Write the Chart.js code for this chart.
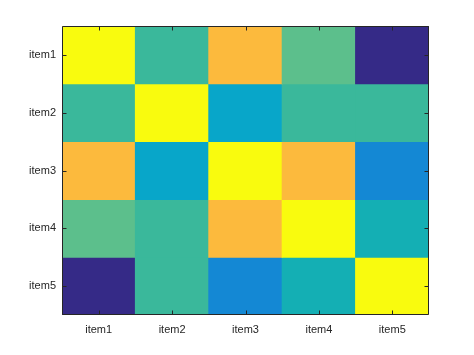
<!DOCTYPE html>
<html>
<head>
<meta charset="utf-8">
<script src="https://cdn.jsdelivr.net/npm/chart.js@4/dist/chart.umd.min.js"></script>
<style>
html,body{margin:0;padding:0;background:#fff;}
canvas{display:block;}
</style>
</head>
<body>
<canvas id="c" width="474" height="355"></canvas>
<script>
const items = ['item1', 'item2', 'item3', 'item4', 'item5'];
const row1 = [1.00, 0.52, 0.84, 0.58, 0.00];
const row2 = [0.52, 1.00, 0.38, 0.52, 0.52];
const row3 = [0.84, 0.38, 1.00, 0.84, 0.27];
const row4 = [0.58, 0.52, 0.84, 1.00, 0.45];
const row5 = [0.00, 0.52, 0.27, 0.45, 1.00];
const rows = [row1, row2, row3, row4, row5];

// parula-like colormap anchors
const cmapStops = [0.00, 0.125, 0.27, 0.38, 0.45, 0.52, 0.58, 0.70, 0.84, 0.92, 1.00];
const cmapColors = [
  [53,42,135],[10,94,220],[20,136,212],[8,166,201],[20,175,180],
  [58,184,155],[92,191,140],[180,190,100],[252,186,61],[250,215,40],[249,251,14]
];
function cmap(v){
  if (v <= cmapStops[0]) return 'rgb(' + cmapColors[0].join(',') + ')';
  for (let i = 1; i < cmapStops.length; i++) {
    if (v <= cmapStops[i]) {
      const t = (v - cmapStops[i-1]) / (cmapStops[i] - cmapStops[i-1]);
      const a = cmapColors[i-1], b = cmapColors[i];
      return 'rgb(' + a.map((x, k) => Math.round(x + (b[k]-x)*t)).join(',') + ')';
    }
  }
  return 'rgb(' + cmapColors[cmapColors.length-1].join(',') + ')';
}

const datasets = rows.map((row, r) => ({
  label: items[r],
  data: row.map(() => [r + 0.5, r + 1.5]),
  backgroundColor: row.map(v => cmap(v)),
  borderWidth: 0,
  grouped: false,
  barPercentage: 1,
  categoryPercentage: 1,
  inflateAmount: 0.5
}));

const axisColor = '#262626';
const boxPlugin = {
  id: 'box',
  afterDatasetsDraw(chart) {
    const {ctx, chartArea: a, scales} = chart;
    ctx.save();
    ctx.strokeStyle = axisColor;
    ctx.lineWidth = 1;
    const L = Math.round(a.left) + 0.5, R = Math.round(a.right) - 0.5;
    const T = Math.round(a.top) + 0.5, B = Math.round(a.bottom) - 0.5;
    ctx.beginPath();
    ctx.rect(L, T, R - L, B - T);
    const tl = 4;
    scales.x.ticks.forEach((t, i) => {
      const x = Math.round(scales.x.getPixelForTick(i)) + 0.5;
      ctx.moveTo(x, B); ctx.lineTo(x, B - tl);
      ctx.moveTo(x, T); ctx.lineTo(x, T + tl);
    });
    scales.y.ticks.forEach(t => {
      const y = Math.round(scales.y.getPixelForValue(t.value)) + 0.5;
      ctx.moveTo(L, y); ctx.lineTo(L + tl, y);
      ctx.moveTo(R, y); ctx.lineTo(R - tl, y);
    });
    ctx.stroke();
    ctx.restore();
  }
};

new Chart(document.getElementById('c'), {
  type: 'bar',
  data: { labels: items, datasets },
  options: {
    responsive: false,
    animation: false,
    layout: { padding: { top: 26, right: 45, left: 0, bottom: 0 } },
    plugins: { legend: { display: false }, tooltip: { enabled: false } },
    scales: {
      x: {
        type: 'category',
        grid: { display: false, drawTicks: false },
        border: { display: false },
        ticks: { color: axisColor, font: { family: 'Liberation Sans, Arial, sans-serif', size: 11 }, padding: 8, maxRotation: 0 },
        afterFit(s) { s.height = 40; }
      },
      y: {
        type: 'linear',
        reverse: true,
        min: 0.5,
        max: 5.5,
        grid: { display: false, drawTicks: false },
        border: { display: false },
        afterBuildTicks(s) { s.ticks = items.map((_, i) => ({ value: i + 1 })); },
        ticks: {
          color: axisColor,
          font: { family: 'Liberation Sans, Arial, sans-serif', size: 11 },
          padding: 6,
          callback: (v) => items[Math.round(v) - 1] || ''
        },
        afterFit(s) { s.width = 62; }
      }
    }
  },
  plugins: [boxPlugin]
});
</script>
</body>
</html>
